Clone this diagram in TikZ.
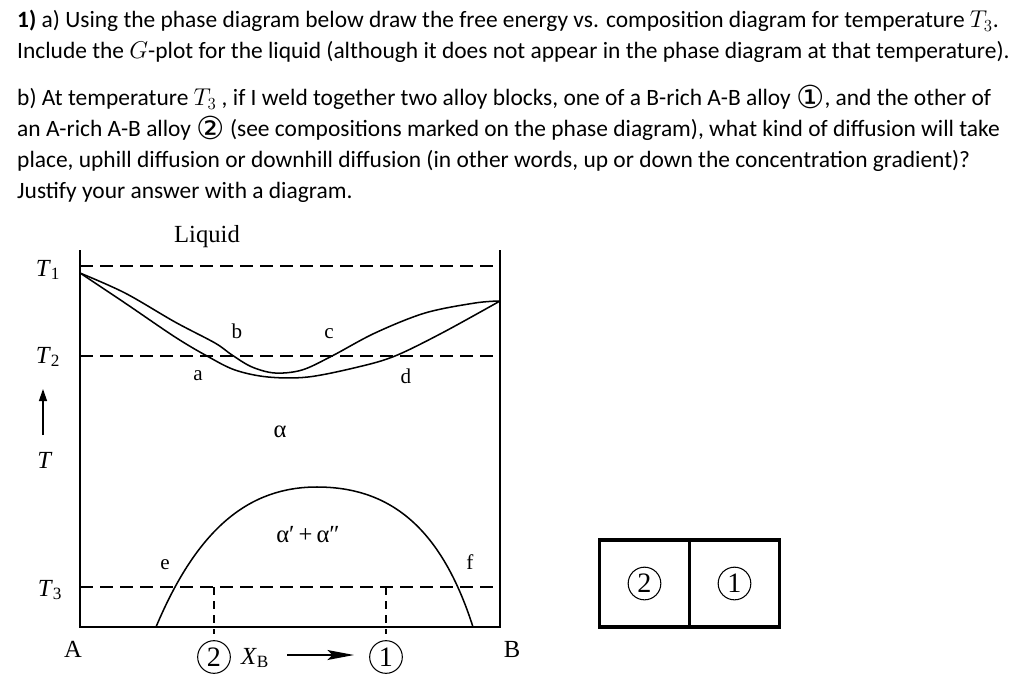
\documentclass[tikz,border=0pt]{standalone}
\usepackage{fontspec}
\setmainfont{Carlito}
\newfontfamily\diagfont{Liberation Serif}
\newfontfamily\circfont{DejaVu Sans}
\usetikzlibrary{arrows.meta,positioning}
\newcommand{\circnumtxt}[1]{\raisebox{-0.12em}{\scalebox{1.35}{\circfont #1}}}
\tikzstyle{para} = [anchor=north west, align=left, inner sep=0pt, font=\fontsize{20}{26.4}\selectfont]
\tikzstyle{frame} = [line width=1.3pt]
\tikzstyle{level} = [line width=0.9pt, dash pattern=on 3.9mm off 2.1mm]
\tikzstyle{comp} = [line width=2.2pt, dash pattern=on 2.4mm off 1.8mm]
\tikzstyle{curve} = [line width=1.3pt]
\tikzstyle{lbl} = [font=\diagfont\fontsize{18}{18}\selectfont, inner sep=1pt]
\tikzstyle{tlbl} = [font=\diagfont\fontsize{21}{21}\selectfont, inner sep=1pt]
\tikzstyle{circnum} = [circle, draw, line width=0.9pt, minimum size=9.8mm, inner sep=0pt, font=\diagfont\fontsize{24}{24}\selectfont]
\tikzstyle{block} = [rectangle, draw, line width=3pt, outer sep=0pt, minimum width=27mm, minimum height=26.1mm]
\tikzstyle{arrow} = [line width=1.1pt]

\begin{document}
\begin{tikzpicture}[x=0.3mm, y=-0.3mm] % one unit = one pixel of the reference
\useasboundingbox (0,0) rectangle (1024,689);

% The question text
\node(parta) [para] at (17,10) {\textbf{1)} a) Using the phase diagram below draw the free energy vs. composition diagram for temperature $T_3$.\\
Include the $G$-plot for the liquid (although it does not appear in the phase diagram at that temperature).};
\node(partb) [para] at (17,85) {b) At temperature $T_3$ , if I weld together two alloy blocks, one of a B-rich A-B alloy \circnumtxt{①}, and the other of\\
an A-rich A-B alloy \circnumtxt{②} (see compositions marked on the phase diagram), what kind of diffusion will take\\
place, uphill diffusion or downhill diffusion (in other words, up or down the concentration gradient)?\\
Justify your answer with a diagram.};

% Frame of the phase diagram
\coordinate (topA) at (80,250);
\coordinate (topB) at (500,250);
\coordinate (A0) at (80,627);
\coordinate (B0) at (500,627);
\draw [frame] (topA) -- (A0) -- (B0) -- (topB);

% Temperature levels
\draw [level] (80,266) -- (500,266);
\draw [level] (80,356) -- (500,356);
\draw [level] (80,587) -- (500,587);

% Liquidus and solidus
\draw [curve] plot[smooth, tension=0.55] coordinates {(80,273) (125,293) (175,322) (215,343) (232,355) (252,367) (275,373) (302,370) (332,356) (375,333) (425,313) (475,303) (500,301)};
\draw [curve] plot[smooth, tension=0.55] coordinates {(80,273) (125,303) (175,337) (207,356) (235,370) (268,377) (308,377) (358,367) (395,356) (442,333) (500,301)};

% Miscibility gap
\coordinate (gapL) at (156,627);
\coordinate (gapTop) at (317,487);
\coordinate (gapR) at (473,627);
\draw [curve] (gapL) .. controls (198,527) and (250,487) .. (gapTop)
                     .. controls (392,487) and (442,530) .. (gapR);

% Alloy compositions
\coordinate (top2) at (214,587);
\coordinate (bot2) at (214,634);
\coordinate (top1) at (386,587);
\coordinate (bot1) at (386,634);
\draw [comp] (top2) -- (bot2);
\draw [comp] (top1) -- (bot1);

% Labels
\node(liquid) [tlbl] at (207,237) {Liquid};
\node(t1)     [tlbl] at (48,270)  {\textit{T}\textsubscript{1}};
\node(t2)     [tlbl] at (48,357)  {\textit{T}\textsubscript{2}};
\node(t)      [tlbl] at (45,460)  {\textit{T}};
\node(t3)     [tlbl] at (50,590)  {\textit{T}\textsubscript{3}};
\node(b)      [lbl]  at (237,331) {b};
\node(c)      [lbl]  at (329,334) {c};
\node(a)      [lbl]  at (198,376) {a};
\node(d)      [lbl]  at (406,376) {d};
\node(alpha)  [tlbl] at (280,432) {α};
\node(twoph)  [tlbl] at (308,535) {α′\,+\,α″};
\node(e)      [lbl]  at (165,565) {e};
\node(f)      [lbl]  at (470,562) {f};
\node(A)      [tlbl] at (73,649)  {A};
\node(B)      [tlbl] at (512,649) {B};
\node(two)    [circnum] at (214,657) {2};
\node(one)    [circnum] at (386,657) {1};
\node(xb)     [tlbl] at (255,658) {\textit{X}\textsubscript{B}};

% Axis arrows
\coordinate (tfoot) at (43,435);
\coordinate (ttip) at (43,389);
\draw [arrow, -{Triangle[length=3.6mm, width=2.4mm]}] (tfoot) -- (ttip);
\coordinate (xfoot) at (287,655);
\coordinate (xtip) at (354,655);
\draw [arrow, -{Stealth[length=8mm, width=3mm, inset=1.5mm]}] (xfoot) -- (xtip);

% The two welded blocks
\node(block2) [block] at (644.5,583.5) {};
\node(block1) [block, right=0pt of block2] {};
\node(lab2) [circnum] at (block2) {2};
\node(lab1) [circnum] at (block1) {1};

\end{tikzpicture}
\end{document}
